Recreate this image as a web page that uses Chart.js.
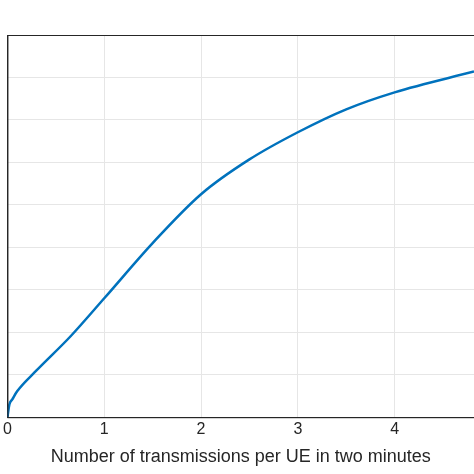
<!DOCTYPE html>
<html>
<head>
<script src="https://cdn.jsdelivr.net/npm/chart.js@4"></script>
<style>
  body { margin: 0; background: #fff; }
  #wrap { width: 474px; height: 474px; }
</style>
</head>
<body>
<div id="wrap"><canvas id="myChart"></canvas></div>
<script>
// CDF curve
const xValues = [0, 0.02, 0.05, 0.1, 0.3, 0.65, 1, 1.5, 2, 2.5, 3, 3.5, 4, 4.82];
const yValues = [0, 0.03, 0.042, 0.061, 0.11, 0.19, 0.28, 0.41, 0.525, 0.607, 0.671, 0.725, 0.765, 0.814];
const xTitle = "Number of transmissions per UE in two minutes";

const boxPlugin = {
    id: 'box',
    afterDraw(chart) {
        const a = chart.chartArea;
        const c = chart.ctx;
        c.save();
        c.strokeStyle = '#262626';
        c.lineWidth = 1;
        c.strokeRect(a.left + 0.5, a.top + 0.5, a.right - a.left, a.bottom - a.top);
        c.restore();
    }
};

new Chart(document.getElementById('myChart'), {
    type: 'line',
    data: {
        datasets: [{
            data: xValues.map((x, i) => ({ x: x, y: yValues[i] })),
            borderColor: '#0072BD',
            borderWidth: 2.5,
            pointRadius: 0,
            cubicInterpolationMode: 'monotone',
            fill: false
        }]
    },
    options: {
        responsive: true,
        maintainAspectRatio: false,
        animation: false,
        layout: { padding: { left: 0, top: 35, right: 0, bottom: 6 } },
        plugins: { legend: { display: false }, tooltip: { enabled: false } },
        scales: {
            x: {
                type: 'linear',
                min: 0,
                max: 4.82,
                ticks: { stepSize: 1, includeBounds: false, color: '#262626', font: { family: 'Liberation Sans', size: 16 }, padding: 3 },
                grid: { color: '#e6e6e6', drawTicks: false },
                border: { color: '#262626' },
                title: { display: true, text: xTitle, color: '#262626', font: { family: 'Liberation Sans', size: 18 }, padding: { top: 4, bottom: 0 } }
            },
            y: {
                min: 0,
                max: 0.9,
                ticks: { display: false, stepSize: 0.1 },
                grid: { color: '#e6e6e6', drawTicks: false },
                border: { color: '#262626' }
            }
        }
    },
    plugins: [boxPlugin]
});
</script>
</body>
</html>
